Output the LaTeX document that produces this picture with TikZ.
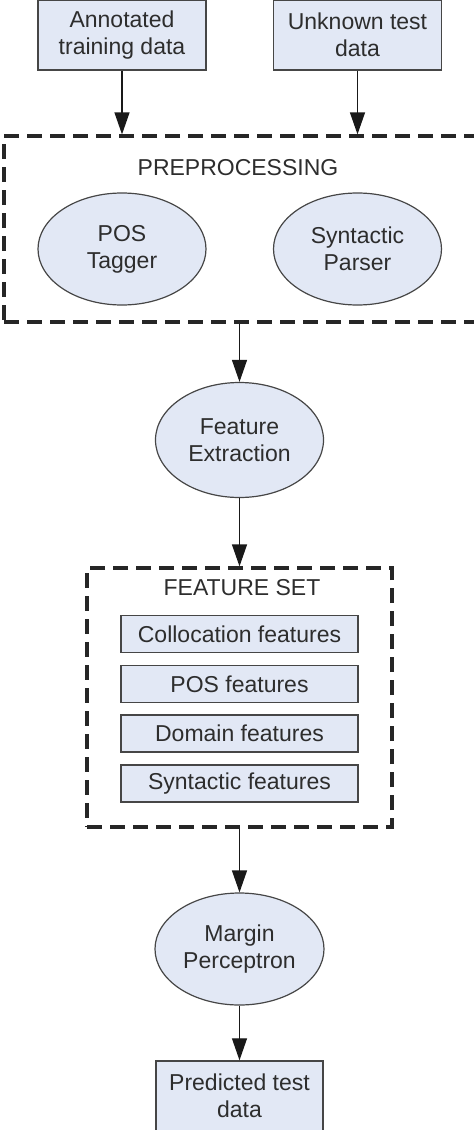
\documentclass[tikz,border=0pt]{standalone}
\usepackage{fontspec}
\setmainfont{Liberation Sans}
\usetikzlibrary{shapes.geometric,arrows.meta}

\definecolor{boxfill}{RGB}{226,232,245}
\definecolor{boxline}{RGB}{70,70,70}
\definecolor{textgray}{RGB}{45,45,45}

\tikzset{
	databox/.style={draw=boxline, fill=boxfill, line width=0.7pt, minimum width=84pt, minimum height=35pt, align=center, inner sep=1pt},
	procell/.style={draw=boxline, fill=boxfill, ellipse, line width=0.6pt, minimum width=84pt, minimum height=56pt, align=center, inner sep=0pt},
	featbox/.style={draw=boxline, fill=boxfill, line width=0.7pt, minimum width=118.5pt, minimum height=18.5pt, inner sep=0pt},
	groupbox/.style={draw=black!85, line width=1.6pt, dash pattern=on 7.5pt off 4pt},
	flow/.style={-{Triangle[length=11pt,width=7.5pt]}, line width=0.6pt, color=black!90}
}

\begin{document}
\begin{tikzpicture}[x=0.5pt, y=-0.5pt, font=\fontsize{11.5}{13.5}\selectfont, text=textgray]
		\useasboundingbox (0,0) rectangle (474,1130);
		\clip (0,0) rectangle (474,1130);
		
		% dashed groups
		\node[groupbox, minimum width=239pt, minimum height=93pt] (pre) at (243,229) {};
		\node[groupbox, minimum width=152.5pt, minimum height=129.5pt] (fset) at (239.5,697.5) {};
		\node (prelabel) at (238,168) {PREPROCESSING};
		\node (fsetlabel) at (242,588) {FEATURE SET};
		
		% data
		\node[databox] (train) at (122,35) {Annotated\\training data};
		\node[databox] (test) at (357.5,35) {Unknown test\\data};
		\node[databox, minimum width=83.5pt] (pred) at (239.5,1096) {Predicted test\\data};
		
		% processing steps
		\node[procell] (pos) at (122,249) {POS\\Tagger};
		\node[procell] (parser) at (357.5,249) {Syntactic\\Parser};
		\node[procell, minimum height=57.5pt] (fe) at (239.5,440) {Feature\\Extraction};
		\node[procell, minimum width=84.5pt] (mp) at (239.5,949) {Margin\\Perceptron};
		
		% features
		\node[featbox] (colf) at (239.5,634) {Collocation features};
		\node[featbox] (posf) at (239.5,684) {POS features};
		\node[featbox] (domf) at (239.5,733.5) {Domain features};
		\node[featbox] (synf) at (239.5,783.5) {Syntactic features};
		
		\path [flow] (train) edge (train |- pre.north);
		\path [flow] (test) edge (test |- pre.north);
		\path [flow] (fe |- pre.south) edge (fe);
		\path [flow] (fe) edge (fset);
		\path [flow] (mp |- fset.south) edge (mp);
		\path [flow] (mp) edge (pred);
\end{tikzpicture}
\end{document}
